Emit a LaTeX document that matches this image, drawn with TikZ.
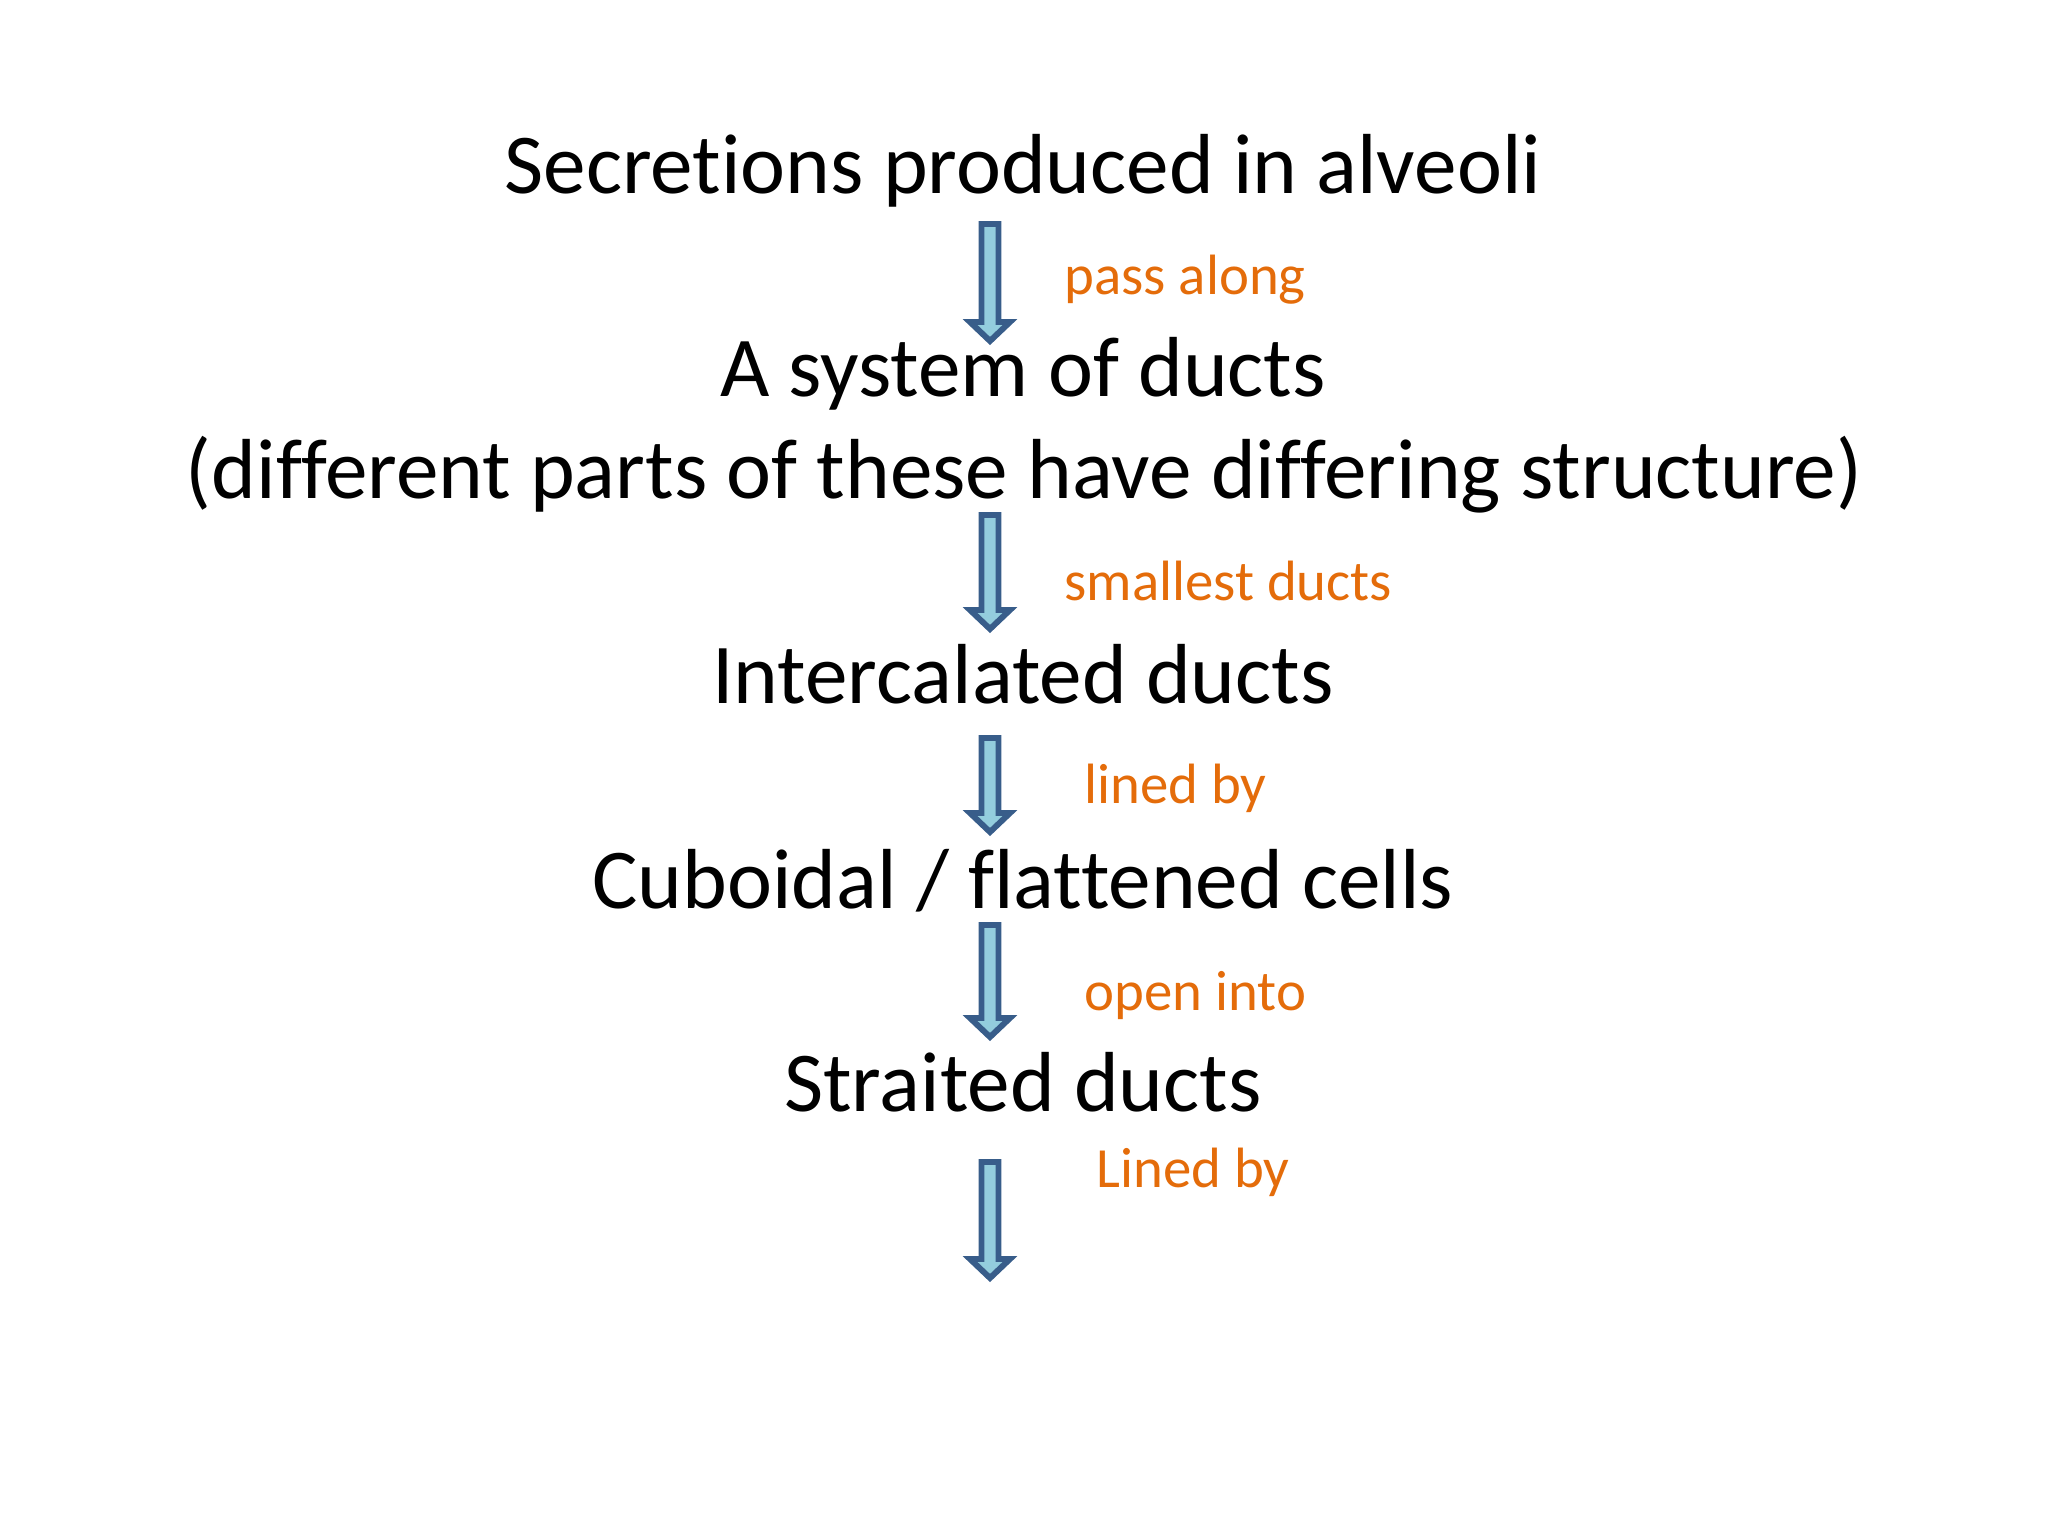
\documentclass[tikz,border=0pt]{standalone}
\usepackage{fontspec}
\setmainfont{Carlito}[Ligatures=NoCommon]
\usetikzlibrary{calc}
\definecolor{ink}{HTML}{000000}
\definecolor{labelOrange}{HTML}{E46C0A}
\definecolor{arrowFill}{HTML}{93CDDD}
\definecolor{arrowEdge}{HTML}{385D8A}
\tikzset{
  step text/.style={anchor=base,text=ink,inner sep=0pt,font=\fontsize{30.3}{36}\selectfont},
  link text/.style={anchor=base west,text=labelOrange,inner sep=0pt,font=\fontsize{20.2}{24}\selectfont},
  block/.style={draw=arrowEdge,fill=arrowFill,line width=2.1pt,miter limit=10}
}

\begin{document}
\begin{tikzpicture}[x=0.0125cm,y=-0.0125cm]
  \path[use as bounding box] (0,0) rectangle (2048,1536);

  % main chain of texts
  \node[step text] (alveoli) at (1023,193) {Secretions produced in alveoli};
  \node[step text] (system) at (1023,396) {A system of ducts};
  \node[step text] (parts) at (1024,498) {(different parts of these have differing structure)};
  \node[step text] (intercalated) at (1023,703) {Intercalated ducts};
  \node[step text] (cuboidal) at (1023,908) {Cuboidal / flattened cells};
  \node[step text] (straited) at (1023,1111) {Straited ducts};

  % labels beside the arrows
  \node[link text] (passAlong) at (1064,294) {pass along};
  \node[link text] (smallest) at (1064,600) {smallest ducts};
  \node[link text] (linedBy) at (1084,803) {lined by};
  \node[link text] (openInto) at (1084,1010) {open into};
  \node[link text] (linedByTwo) at (1096,1187) {Lined by};

  % block arrows: top and tip of each
  \foreach \n/\top/\tip in {1/224/341,2/515/629,3/738/832,4/925/1037,5/1162/1278}{
    \coordinate (top\n) at (990,\top);
    \coordinate (tip\n) at (990,\tip);
    \draw[block] ($(top\n)+(-8.5,0)$) -- ($(tip\n)+(-8.5,-19)$)
      -- ($(tip\n)+(-20,-19)$) -- (tip\n) -- ($(tip\n)+(20,-19)$)
      -- ($(tip\n)+(8.5,-19)$) -- ($(top\n)+(8.5,0)$) -- cycle;
  }
\end{tikzpicture}
\end{document}
